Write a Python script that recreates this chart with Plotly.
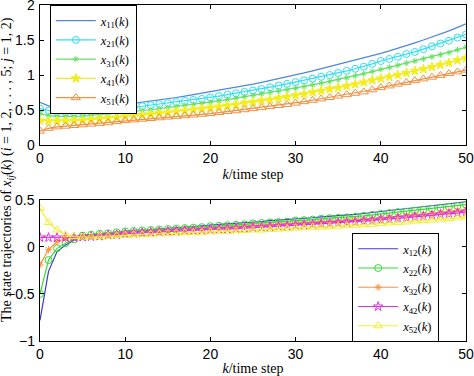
import plotly.graph_objects as go

k = list(range(51))

x11 = [0.61,0.56,0.53,0.52,0.52,0.52,0.53,0.54,0.55,0.565,0.58,0.595,0.61,0.63,0.645,0.665,0.68,0.70,0.72,0.74,
       0.76,0.78,0.80,0.825,0.85,0.87,0.895,0.92,0.945,0.97,1.00,1.03,1.06,1.09,1.12,1.15,1.18,1.21,1.24,1.275,
       1.31,1.345,1.38,1.42,1.46,1.50,1.54,1.58,1.63,1.68,1.73]
x21 = [0.52,0.49,0.47,0.465,0.465,0.47,0.48,0.49,0.50,0.515,0.53,0.54,0.555,0.57,0.585,0.60,0.615,0.63,0.645,0.66,
       0.68,0.70,0.72,0.74,0.76,0.78,0.80,0.825,0.85,0.875,0.90,0.925,0.95,0.975,1.00,1.03,1.06,1.09,1.12,1.16,
       1.20,1.23,1.26,1.30,1.33,1.37,1.41,1.45,1.49,1.535,1.58]
x31 = [0.45,0.42,0.41,0.405,0.41,0.415,0.425,0.435,0.445,0.455,0.47,0.48,0.495,0.505,0.52,0.535,0.55,0.565,0.58,0.595,
       0.61,0.63,0.65,0.67,0.69,0.71,0.73,0.75,0.77,0.79,0.81,0.835,0.86,0.885,0.91,0.935,0.96,0.99,1.02,1.05,
       1.08,1.11,1.14,1.17,1.20,1.23,1.26,1.29,1.32,1.36,1.40]
x41 = [0.35,0.345,0.345,0.345,0.35,0.355,0.365,0.375,0.385,0.395,0.41,0.42,0.43,0.44,0.455,0.465,0.48,0.49,0.505,0.52,
       0.535,0.55,0.565,0.58,0.60,0.615,0.635,0.65,0.67,0.69,0.71,0.73,0.755,0.775,0.80,0.82,0.845,0.87,0.895,0.925,
       0.95,0.975,1.00,1.03,1.06,1.085,1.115,1.145,1.175,1.21,1.24]
x51 = [0.20,0.24,0.26,0.27,0.28,0.29,0.30,0.31,0.32,0.335,0.35,0.36,0.37,0.38,0.39,0.40,0.41,0.42,0.43,0.44,
       0.45,0.465,0.48,0.49,0.505,0.52,0.535,0.55,0.565,0.58,0.60,0.62,0.64,0.66,0.68,0.70,0.72,0.74,0.76,0.79,
       0.82,0.845,0.87,0.895,0.92,0.945,0.97,0.995,1.02,1.045,1.07]

x12 = [-0.78,-0.26,-0.05,0.02,0.07,0.12,0.13,0.14,0.15,0.16,0.17,0.175,0.18,0.185,0.19,0.195,0.20,0.21,0.215,0.225,
       0.235,0.24,0.245,0.25,0.26,0.265,0.27,0.28,0.285,0.29,0.30,0.305,0.31,0.32,0.325,0.33,0.34,0.345,0.355,0.365,
       0.375,0.385,0.395,0.405,0.415,0.425,0.435,0.445,0.455,0.465,0.48]
x22 = [-0.50,-0.14,-0.015,0.04,0.08,0.12,0.13,0.14,0.145,0.155,0.165,0.17,0.175,0.18,0.185,0.19,0.195,0.20,0.205,0.21,
       0.22,0.225,0.23,0.235,0.24,0.25,0.255,0.26,0.265,0.27,0.28,0.285,0.29,0.30,0.305,0.31,0.315,0.32,0.33,0.34,
       0.35,0.36,0.37,0.375,0.385,0.395,0.405,0.415,0.425,0.435,0.45]
x32 = [-0.19,-0.03,0.055,0.09,0.10,0.11,0.115,0.12,0.13,0.14,0.15,0.155,0.16,0.165,0.17,0.175,0.18,0.185,0.19,0.195,
       0.20,0.205,0.21,0.215,0.22,0.225,0.23,0.235,0.24,0.245,0.25,0.255,0.26,0.265,0.27,0.275,0.28,0.29,0.295,0.30,
       0.31,0.32,0.325,0.335,0.345,0.35,0.36,0.37,0.38,0.39,0.40]
x42 = [0.10,0.10,0.10,0.10,0.10,0.105,0.11,0.115,0.125,0.13,0.14,0.145,0.15,0.155,0.16,0.165,0.17,0.175,0.175,0.18,
       0.185,0.19,0.19,0.195,0.20,0.205,0.21,0.215,0.22,0.225,0.23,0.235,0.24,0.245,0.25,0.255,0.26,0.265,0.275,0.28,
       0.29,0.295,0.305,0.31,0.32,0.325,0.335,0.345,0.35,0.36,0.37]
x52 = [0.41,0.26,0.18,0.13,0.11,0.105,0.105,0.11,0.115,0.12,0.125,0.13,0.13,0.135,0.14,0.14,0.145,0.15,0.15,0.155,
       0.16,0.165,0.165,0.17,0.175,0.18,0.18,0.185,0.19,0.195,0.20,0.205,0.21,0.21,0.215,0.22,0.225,0.23,0.235,0.24,
       0.25,0.255,0.26,0.265,0.275,0.28,0.285,0.295,0.30,0.31,0.32]

x_ticks = [0, 10, 20, 30, 40, 50]
top_y_ticks = [0, 0.5, 1, 1.5, 2]
top_y_labels = ["0", "0.5", "1", "1.5", "2"]
bot_y_ticks = [-1, -0.5, 0, 0.5]
bot_y_labels = ["\u22121", "\u22120.5", "0", "0.5"]
y_title = "The state trajectories of <i>x<sub>ij</sub></i>(<i>k</i>) (<i>i</i> = 1, 2, . . . , 5; <i>j</i> = 1, 2)"

top_names = ["<i>x</i><sub>11</sub>(<i>k</i>)", "<i>x</i><sub>21</sub>(<i>k</i>)", "<i>x</i><sub>31</sub>(<i>k</i>)",
             "<i>x</i><sub>41</sub>(<i>k</i>)", "<i>x</i><sub>51</sub>(<i>k</i>)"]
bot_names = ["<i>x</i><sub>12</sub>(<i>k</i>)", "<i>x</i><sub>22</sub>(<i>k</i>)", "<i>x</i><sub>32</sub>(<i>k</i>)",
             "<i>x</i><sub>42</sub>(<i>k</i>)", "<i>x</i><sub>52</sub>(<i>k</i>)"]

top_series = [x11, x21, x31, x41, x51]
bot_series = [x12, x22, x32, x42, x52]
top_colors = ["#4f86dc", "#2fe0f0", "#66e066", "#f2ee1e", "#f09040"]
bot_colors = ["#3c3ccc", "#33dd33", "#ff9040", "#e030e0", "#f0f030"]
top_symbols = [None, "circle-open", "asterisk-open", "star", "triangle-up-open"]
bot_symbols = [None, "circle-open", "asterisk-open", "star-open", "triangle-up-open"]
top_sizes = [0, 7, 5, 7, 8]
bot_sizes = [0, 7, 6, 7, 8]

fig = go.Figure()
for name, ys, c, s, sz in zip(top_names, top_series, top_colors, top_symbols, top_sizes):
    fig.add_trace(go.Scatter(
        x=k, y=ys, name=name, xaxis="x", yaxis="y",
        mode="lines" if s is None else "lines+markers",
        line=dict(color=c, width=1.2),
        marker=dict(symbol=s, size=sz, color=c, line=dict(color=c, width=1)) if s else None,
        legend="legend"))
for name, ys, c, s, sz in zip(bot_names, bot_series, bot_colors, bot_symbols, bot_sizes):
    fig.add_trace(go.Scatter(
        x=k, y=ys, name=name, xaxis="x2", yaxis="y2",
        mode="lines" if s is None else "lines+markers",
        line=dict(color=c, width=1.2),
        marker=dict(symbol=s, size=sz, color=c, line=dict(color=c, width=1)) if s else None,
        legend="legend2"))

tickfont = dict(family="Liberation Sans, Arial, sans-serif", size=14, color="black")
serif = "Liberation Serif, Times New Roman, serif"
axis_common = dict(showline=True, linecolor="black", linewidth=1, mirror="ticks",
                   ticks="inside", ticklen=4, tickcolor="black", showgrid=False,
                   zeroline=False, tickfont=tickfont, automargin=False)
xtitle = dict(text="<i>k</i>/time step", font=dict(family=serif, size=14, color="black"), standoff=4)

legend_common = dict(bgcolor="white", bordercolor="black", borderwidth=1,
                     font=dict(family=serif, size=12.5, color="black"),
                     tracegroupgap=0, itemwidth=40)

# y tick labels placed at the axes' own tick values (data coordinates of each y axis)
annotations = []
for v, t in zip(top_y_ticks, top_y_labels):
    annotations.append(dict(text=t, xref="paper", yref="y", x=0, y=v, xanchor="right", yanchor="middle",
                            xshift=-3, showarrow=False, font=tickfont))
for v, t in zip(bot_y_ticks, bot_y_labels):
    annotations.append(dict(text=t, xref="paper", yref="y2", x=0, y=v, xanchor="right", yanchor="middle",
                            xshift=-3, showarrow=False, font=tickfont))
annotations.append(dict(
    text=y_title, xref="paper", yref="paper", x=0, y=0.509, xanchor="center", yanchor="middle",
    xshift=-32, textangle=-90, showarrow=False,
    font=dict(family=serif, size=14, color="black")))

fig.update_layout(
    width=474, height=376,
    margin=dict(l=40, r=8, t=5, b=35),
    paper_bgcolor="white", plot_bgcolor="white",
    xaxis=dict(domain=[0, 1], anchor="y", range=[0, 50], tickmode="array", tickvals=x_ticks, title=xtitle, **axis_common),
    yaxis=dict(domain=[0.583, 1.0], anchor="x", range=[0, 2], tickmode="array", tickvals=top_y_ticks,
               showticklabels=False, **axis_common),
    xaxis2=dict(domain=[0, 1], anchor="y2", range=[0, 50], tickmode="array", tickvals=x_ticks, title=xtitle, **axis_common),
    yaxis2=dict(domain=[0, 0.42], anchor="x2", range=[-1, 0.5], tickmode="array", tickvals=bot_y_ticks,
                showticklabels=False, **axis_common),
    legend=dict(x=0.023, y=1.0, xanchor="left", yanchor="top", **legend_common),
    legend2=dict(x=0.937, y=0.321, xanchor="right", yanchor="top", **legend_common),
    annotations=annotations,
    showlegend=True,
)

fig.write_html("out.html")
